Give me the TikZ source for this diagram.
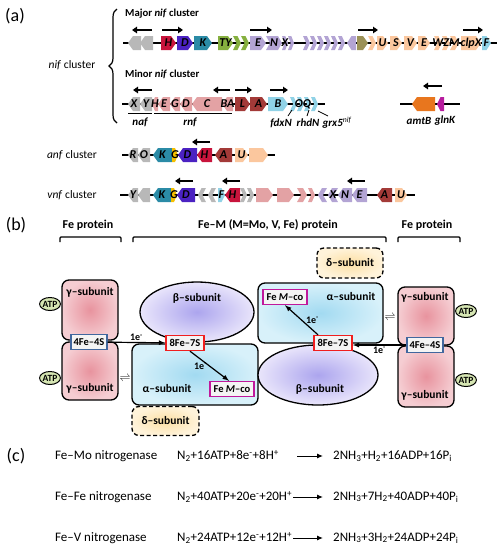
\documentclass[tikz,border=0pt]{standalone}
\usepackage{fontspec}
\setmainfont{Carlito}
\usetikzlibrary{arrows.meta}
\usetikzlibrary{shapes.geometric}
\usetikzlibrary{decorations.pathreplacing}
\tikzset{>=latex}
\definecolor{ngray}{HTML}{B8B8B8}
\definecolor{nred}{HTML}{C8143C}
\definecolor{nindigo}{HTML}{4B22C2}
\definecolor{nteal}{HTML}{2B8BA6}
\definecolor{ngreen}{HTML}{86B03F}
\definecolor{npurple}{HTML}{B3A4D4}
\definecolor{nolive}{HTML}{9B9157}
\definecolor{npeach}{HTML}{FBC79E}
\definecolor{nblue}{HTML}{90D2E6}
\definecolor{npink}{HTML}{E3A2A4}
\definecolor{nbrown}{HTML}{A33A38}
\definecolor{norange}{HTML}{E8761E}
\definecolor{nmagenta}{HTML}{B71C9E}
\definecolor{nyellow}{HTML}{F5C000}
\definecolor{gamin}{HTML}{E8939E}
\definecolor{gamout}{HTML}{F5CDD2}
\definecolor{betin}{HTML}{ACA5EE}
\definecolor{betout}{HTML}{E9E5FB}
\definecolor{alpin}{HTML}{A2DAF1}
\definecolor{alpout}{HTML}{D8F1FA}
\definecolor{delin}{HTML}{FCDFA4}
\definecolor{delout}{HTML}{FFF3DA}
\definecolor{atpgreen}{HTML}{D6E6B3}
\definecolor{fesblue}{HTML}{41679E}
\definecolor{pclred}{HTML}{F01E1E}
\definecolor{mcomag}{HTML}{C0189C}
\definecolor{boxfill}{HTML}{F4F4F4}
\newcommand\partfont{\fontsize{18}{18}\selectfont}
\newcommand\genefont{\fontsize{12}{12}\selectfont\bfseries\itshape}
\tikzstyle{part label}=[font=\partfont,inner sep=0pt]
\tikzstyle{cluster name}=[font=\fontsize{11.5}{12}\selectfont,inner sep=0pt]
\tikzstyle{row title}=[font=\fontsize{10.7}{11}\selectfont\bfseries,inner sep=0pt,anchor=west]
\tikzstyle{backbone}=[line width=1.1pt]
\tikzstyle{gene label}=[font=\genefont,inner sep=0pt]
\tikzstyle{under label}=[font=\fontsize{11}{11}\selectfont\bfseries\itshape,inner sep=0pt]
\tikzstyle{dir arrow}=[line width=1.8pt,-{Triangle[length=5pt,width=6.5pt]}]
\tikzstyle{protein}=[font=\fontsize{12}{13}\selectfont\bfseries,inner sep=0pt]
\tikzstyle{bracket}=[line width=1.4pt,rounded corners=1pt]
\tikzstyle{subunit}=[draw,line width=1.3pt,rounded corners=7pt,inner sep=0pt]
\tikzstyle{gamma box}=[subunit,inner color=gamin,outer color=gamout,minimum width=56pt,minimum height=60pt]
\tikzstyle{alpha box}=[subunit,inner color=alpin,outer color=alpout,minimum width=125pt,minimum height=61pt]
\tikzstyle{beta ellipse}=[draw,line width=1.3pt,ellipse,inner sep=0pt,inner color=betin,outer color=betout]
\tikzstyle{delta box}=[subunit,dash pattern=on 4pt off 2.5pt,inner color=delin,outer color=delout,minimum width=67pt,minimum height=29pt]
\tikzstyle{sub label}=[font=\fontsize{11.5}{12}\selectfont\bfseries,inner sep=0pt]
\tikzstyle{metal}=[draw,line width=1.4pt,fill=boxfill,font=\fontsize{10.5}{11}\selectfont\bfseries,inner sep=1pt,minimum height=15pt]
\tikzstyle{FeS}=[metal,draw=fesblue,minimum width=36pt]
\tikzstyle{PC}=[metal,draw=pclred,minimum width=38pt]
\tikzstyle{cofactor}=[metal,draw=mcomag,minimum width=44pt]
\tikzstyle{ATP}=[draw,line width=1pt,ellipse,fill=atpgreen,inner sep=0pt,minimum width=20pt,minimum height=13pt,font=\fontsize{9.5}{10}\selectfont\bfseries]
\tikzstyle{etr}=[line width=1.2pt,->]
\tikzstyle{electron}=[font=\fontsize{10}{10}\selectfont\bfseries,inner sep=1pt]
\tikzstyle{equil}=[font=\fontsize{11}{11}\selectfont,inner sep=0pt]
\tikzstyle{eq text}=[font=\fontsize{13}{14}\selectfont,inner sep=0pt,anchor=west]
\tikzstyle{eq arrow}=[line width=1pt,-{Latex[length=6pt,width=5pt]}]
\newcommand{\gene}[5]
{ % #1 = row y, #2 = back end, #3 = tip, #4 = colour, #5 = label
  \pgfmathsetmacro{\tipd}{sign(#3-#2)*min(5,abs(#3-#2)*0.5)}
  \fill[fill=#4] (#2,#1-7) -- ({#3-(\tipd)},#1-7) -- (#3,#1) -- ({#3-(\tipd)},#1+7) -- (#2,#1+7) -- cycle;
  \node[gene label] at ({(#2+#3)/2},#1) {#5};
}
\newcommand{\chev}[5]
{ % same as \gene, with a notch at the back end
  \pgfmathsetmacro{\tipd}{sign(#3-#2)*min(4,abs(#3-#2)*0.45)}
  \fill[fill=#4] (#2,#1-7) -- ({#3-(\tipd)},#1-7) -- (#3,#1) -- ({#3-(\tipd)},#1+7) -- (#2,#1+7) -- ({#2+(\tipd)},#1) -- cycle;
  \node[gene label] at ({(#2+#3)/2},#1) {#5};
}
\newcommand{\dirarrow}[3]{\draw[dir arrow] (#2,#1) -- (#3,#1);} % #1 = y, #2 = from, #3 = to

\begin{document}
\begin{tikzpicture}[x=1pt,y=-1pt]
  \useasboundingbox (0,0) rectangle (501,550);
  % (a) gene clusters
  \node[part label] (parta) at (15,16) {(a)};
  \node[cluster name] (nifname) at (72,65) {\textit{nif} cluster};
  \draw[decorate,decoration={brace,amplitude=8pt},line width=1.2pt] (117,123) -- (117,9);
  \node[row title] (major) at (125,14) {Major \textit{nif} cluster};
  \node[row title] (minor) at (125,74) {Minor \textit{nif} cluster};
  % major nif cluster
  \draw[backbone] (123,43) -- (497,43);
  \foreach \bk/\tp/\col/\lab in {141/128/ngray/{},153/140/ngray/{},161/176/nred/H,177/193/nindigo/D,
      194/212/nteal/K,218/233/ngreen/TY,250/266/npurple/E,356/347/npurple/{},357/368/nolive/{},
      377/388/npeach/U,390/402/npeach/S,404/417/npeach/V,418/430/npeach/E,461/481/npeach/clpX,482/491/nblue/F}
    {\gene{43}{\bk}{\tp}{\col}{\lab}}
  \foreach \bk/\tp/\col/\lab in {233/241/ngreen/{},241/249/ngreen/{},266/282/npurple/N,282/288/npurple/X,
      288/294/npurple/{},303/310/npurple/{},310/317/npurple/{},317/324/npurple/{},324/331/npurple/{},
      331/338/npurple/{},338/345/npurple/{},368/376/npeach/{},434/442/npeach/{},442/450/npeach/{},450/459/npeach/{}}
    {\chev{43}{\bk}{\tp}{\col}{\lab}}
  \node[gene label] (wzm) at (446,43) {WZM};
  \foreach \a/\b in {152/132,162/183,250/272,358/378,463/483}
    {\dirarrow{30}{\a}{\b}}
  % minor nif cluster
  \draw[backbone] (122,104) -- (325,104);
  \foreach \bk/\tp/\col/\lab in {140/128/ngray/X,152/140/ngray/Y,158/152/npink/H,170/158/npink/E,
      180/170/npink/G,192/180/npink/D,222/192/npink/C,233/222/npink/BA,235/250/nbrown/L,
      250/267/nbrown/A,268/288/nblue/B}
    {\gene{104}{\bk}{\tp}{\col}{\lab}}
  \foreach \bk/\tp in {290/297,297/304,304/311,311/318}
    {\chev{104}{\bk}{\tp}{nblue}{}}
  \node[gene label] (oq) at (303,104) {OQ};
  \foreach \a/\b in {152/133,230/213,235/252,270/288}
    {\dirarrow{90}{\a}{\b}}
  \draw[line width=1pt] (128,113) -- (152,113);
  \draw[line width=1pt] (154,113) -- (232,113);
  \node[under label] (naf) at (140,122) {naf};
  \node[under label] (rnf) at (190,122) {rnf};
  \draw[line width=0.8pt] (292,110) -- (288,116);
  \draw[line width=0.8pt] (309,110) -- (307,116);
  \draw[line width=0.8pt] (318,111) -- (328,116);
  \node[under label] (fdxN) at (281,123) {fdxN};
  \node[under label] (rhdN) at (308,123) {rhdN};
  \node[under label] (grx) at (337,123) {grx5\textsuperscript{\mdseries nif}};
  % amtB glnK
  \draw[backbone] (400,104) -- (460,104);
  \gene{104}{435}{412}{norange}{}
  \gene{104}{444}{437}{nmagenta}{}
  \dirarrow{86}{442}{423}
  \node[under label] (amtB) at (419,121) {amtB};
  \node[under label] (glnK) at (445,121) {glnK};
  % anf cluster
  \node[cluster name] (anfname) at (72,155) {\textit{anf} cluster};
  \draw[backbone] (122,155) -- (275,155);
  \foreach \bk/\tp/\col/\lab in {138/128/ngray/R,150/138/ngray/O,172/153/nteal/K,172/178/nyellow/G,
      197/178/nindigo/D,212/197/nred/H,232/215/nbrown/A,235/248/npeach/U,249/268/npeach/{}}
    {\gene{155}{\bk}{\tp}{\col}{\lab}}
  \dirarrow{142}{210}{192}
  % vnf cluster
  \node[cluster name] (vnfname) at (72,195) {\textit{vnf} cluster};
  \draw[backbone] (120,195) -- (415,195);
  \foreach \bk/\tp/\col/\lab in {138/128/ngray/Y,150/138/ngray/{},171/153/nteal/K,171/177/nyellow/G,
      195/177/nindigo/D,218/225/nblue/F,240/225/nred/H,256/273/npink/{},277/294/npink/{},
      352/338/npurple/N,367/352/npurple/E,392/377/nbrown/A,395/407/npeach/U}
    {\gene{195}{\bk}{\tp}{\col}{\lab}}
  \foreach \bk/\tp/\col/\lab in {206/198/ngray/{},216/208/ngray/{},240/247/ngray/{},247/254/ngray/{},
      297/307/npink/{},308/315/npink/{},327/318/npurple/{},338/328/npurple/X}
    {\chev{195}{\bk}{\tp}{\col}{\lab}}
  \foreach \a/\b in {193/175,240/222,365/347}
    {\dirarrow{181}{\a}{\b}}

  % (b) nitrogenase proteins
  \node[part label] (partb) at (16,225) {(b)};
  \node[protein] (hFeL) at (88,225) {Fe protein};
  \node[protein] (hFeM) at (268,225) {Fe–M (M=Mo, V, Fe) protein};
  \node[protein] (hFeR) at (427,225) {Fe protein};
  \draw[bracket] (60,242) -- (60,237) -- (121,237) -- (121,242);
  \draw[bracket] (133,242) -- (133,237) -- (386,237) -- (386,242);
  \draw[bracket] (398,242) -- (398,237) -- (460,237) -- (460,242);
  % left half
  \node[gamma box] (gLt) at (90,310) {};
  \node[gamma box,minimum height=58pt] (gLb) at (90,371) {};
  \node[sub label] (lgLt) at (90,292) {γ–subunit};
  \node[sub label] (lgLb) at (90,388) {γ–subunit};
  \node[beta ellipse,minimum width=114pt,minimum height=60pt] (bL) at (197,312) {};
  \node[sub label] (lbL) at (197,298) {β–subunit};
  \node[alpha box,minimum width=126pt] (aL) at (195,374.5) {};
  \node[sub label] (laL) at (167,389) {α–subunit};
  \node[delta box] (dL) at (165.5,421) {};
  \node[sub label] (ldL) at (dL) {δ–subunit};
  \node[FeS] (fesL) at (89,342) {4Fe–4S};
  \node[PC] (pcL) at (185,343) {8Fe–7S};
  \node[cofactor] (mcoL) at (232,389) {Fe \textit{M}–co};
  \node[ATP] (atpLt) at (50,304) {ATP};
  \node[ATP] (atpLb) at (50,378) {ATP};
  \node[equil] (eqL) at (125,378) {$\rightleftharpoons$};
  \draw[etr] (fesL) -- (pcL) node[electron,midway,above] {1e\textsuperscript{-}};
  \draw[etr] ([xshift=5pt]pcL.south) -- ([xshift=-3pt]mcoL.north) node[electron,midway,left=1pt] {1e\textsuperscript{-}};
  % right half
  \node[delta box,minimum width=66pt,minimum height=30pt] (dR) at (350,263) {};
  \node[sub label] (ldR) at (dR) {δ–subunit};
  \node[alpha box,minimum height=60pt] (aR) at (320.5,313) {};
  \node[sub label] (laR) at (351,297) {α–subunit};
  \node[beta ellipse,minimum width=120pt,minimum height=60pt] (bR) at (318,375) {};
  \node[sub label] (lbR) at (320,389) {β–subunit};
  \node[gamma box,minimum height=58pt] (gRt) at (426,316) {};
  \node[gamma box,minimum height=61pt] (gRb) at (426,376.5) {};
  \node[sub label] (lgRt) at (425,297) {γ–subunit};
  \node[sub label] (lgRb) at (425,395) {γ–subunit};
  \node[FeS] (fesR) at (425,345) {4Fe–4S};
  \node[PC] (pcR) at (333,343) {8Fe–7S};
  \node[cofactor] (mcoR) at (285,297) {Fe \textit{M}–co};
  \node[ATP] (atpRt) at (466,311) {ATP};
  \node[ATP] (atpRb) at (466,380) {ATP};
  \node[equil] (eqR) at (390,317) {$\rightleftharpoons$};
  \draw[etr] (fesR.west) -- (fesR.west -| pcR.east) node[electron,midway,below] {1e\textsuperscript{-}};
  \draw[etr] ([xshift=-15pt]pcR.north) -- (mcoR.south) node[electron,midway,right=3pt] {1e\textsuperscript{-}};

  % (c) reactions
  \node[part label] (partc) at (16,456) {(c)};
  \node[eq text] (n1) at (55,456) {Fe–Mo nitrogenase};
  \node[eq text] (l1) at (177,456) {N\textsubscript{2}+16ATP+8e\textsuperscript{-}+8H\textsuperscript{+}};
  \coordinate (s1) at (297,456);
  \coordinate (e1) at (323,456);
  \draw[eq arrow] (s1) -- (e1);
  \node[eq text] (r1) at (333,456) {2NH\textsubscript{3}+H\textsubscript{2}+16ADP+16P\textsubscript{i}};
  \node[eq text] (n2) at (55,497) {Fe–Fe nitrogenase};
  \node[eq text] (l2) at (177,497) {N\textsubscript{2}+40ATP+20e\textsuperscript{-}+20H\textsuperscript{+}};
  \coordinate (s2) at (293,497);
  \coordinate (e2) at (323,497);
  \draw[eq arrow] (s2) -- (e2);
  \node[eq text] (r2) at (333,497) {2NH\textsubscript{3}+7H\textsubscript{2}+40ADP+40P\textsubscript{i}};
  \node[eq text] (n3) at (55,538) {Fe–V nitrogenase};
  \node[eq text] (l3) at (177,538) {N\textsubscript{2}+24ATP+12e\textsuperscript{-}+12H\textsuperscript{+}};
  \coordinate (s3) at (293,538);
  \coordinate (e3) at (323,538);
  \draw[eq arrow] (s3) -- (e3);
  \node[eq text] (r3) at (333,538) {2NH\textsubscript{3}+3H\textsubscript{2}+24ADP+24P\textsubscript{i}};
\end{tikzpicture}
\end{document}
